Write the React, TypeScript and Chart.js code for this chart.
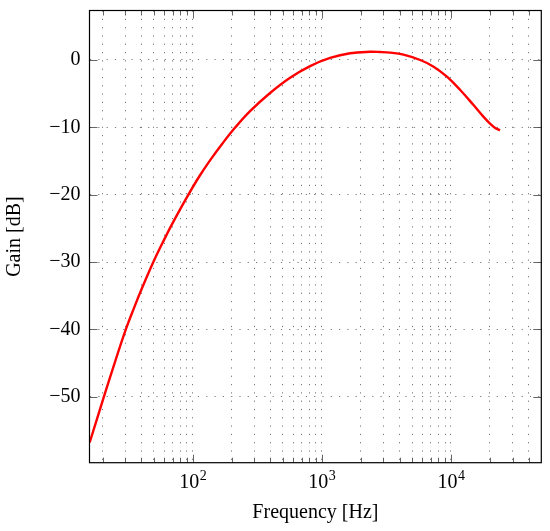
import React, { useEffect, useRef } from 'react';
import { Chart, registerables } from 'chart.js';

Chart.register(...registerables);

// frequency response
const freqHz = [
  15.9, 20.5, 25.1, 30.3, 35.1, 39.8, 49.5, 60.3, 70.8, 92.5, 112.2, 136.1, 169.8, 213.8,
  278, 397, 567.5, 811, 1159, 1656, 2366, 2818, 3381, 4285, 5781, 7345, 9311, 11803,
  14962, 17906, 20184, 21878, 24000,
];
const gainDb = [
  -56.8, -50, -44.7, -40, -36.8, -34.2, -30, -26.6, -24.0, -20, -17.3, -14.9, -12.4, -10,
  -7.6, -4.9, -2.63, -0.9, 0.3, 1.0, 1.22, 1.18, 1.09, 0.79, 0.0, -0.99, -2.48, -4.46,
  -6.69, -8.45, -9.5, -10.05, -10.45,
];

const xMajorTicks = [100, 1000, 10000];
const xTickExponents = ['2', '3', '4'];
const xMinorTicks = [
  20, 30, 40, 50, 60, 70, 80, 90,
  200, 300, 400, 500, 600, 700, 800, 900,
  2000, 3000, 4000, 5000, 6000, 7000, 8000, 9000,
  20000, 30000, 40000,
];
const yTicks = [-50, -40, -30, -20, -10, 0];

const FONT = "'Liberation Serif', 'Times New Roman', serif";

const pgfFrame = {
  id: 'pgfFrame',
  afterDraw(chart: any) {
    const { ctx, chartArea: a, scales } = chart;
    const x = scales.x;
    const y = scales.y;
    ctx.save();
    ctx.strokeStyle = '#404040';
    ctx.lineWidth = 0.8;

    const tickX = (v: number, len: number) => {
      const px = Math.round(x.getPixelForValue(v)) + 0.5;
      ctx.beginPath();
      ctx.moveTo(px, a.bottom);
      ctx.lineTo(px, a.bottom - len);
      ctx.moveTo(px, a.top);
      ctx.lineTo(px, a.top + len);
      ctx.stroke();
    };
    xMinorTicks.forEach((v) => tickX(v, 5));
    xMajorTicks.forEach((v) => tickX(v, 8));

    yTicks.forEach((v) => {
      const py = Math.round(y.getPixelForValue(v)) + 0.5;
      ctx.beginPath();
      ctx.moveTo(a.left, py);
      ctx.lineTo(a.left + 8, py);
      ctx.moveTo(a.right, py);
      ctx.lineTo(a.right - 8, py);
      ctx.stroke();
    });

    // axis box
    ctx.strokeStyle = '#000';
    ctx.lineWidth = 1.2;
    ctx.strokeRect(a.left, a.top, a.right - a.left, a.bottom - a.top);

    // 10^n labels
    ctx.fillStyle = '#000';
    ctx.textBaseline = 'alphabetic';
    ctx.textAlign = 'left';
    xMajorTicks.forEach((v, i) => {
      const px = x.getPixelForValue(v);
      ctx.font = `20px ${FONT}`;
      const wBase = ctx.measureText('10').width;
      ctx.font = `14px ${FONT}`;
      const wExp = ctx.measureText(xTickExponents[i]).width;
      const left = px - (wBase + wExp) / 2;
      const base = a.bottom + 25.5;
      ctx.font = `20px ${FONT}`;
      ctx.fillText('10', left, base);
      ctx.font = `14px ${FONT}`;
      ctx.fillText(xTickExponents[i], left + wBase + 0.5, base - 8);
    });
    ctx.restore();
  },
};

const App: React.FC = () => {
  const canvasRef = useRef<HTMLCanvasElement | null>(null);

  useEffect(() => {
    document.body.style.margin = '0';
    if (!canvasRef.current) return;
    const ctx = canvasRef.current.getContext('2d');
    if (!ctx) return;

    const chart = new Chart(ctx, {
      type: 'line',
      data: {
        datasets: [
          {
            data: freqHz.map((f, i) => ({ x: f, y: gainDb[i] })),
            borderColor: '#ff0000',
            borderWidth: 2.4,
            pointRadius: 0,
            fill: false,
            tension: 0.4,
          },
        ],
      },
      options: {
        animation: false,
        responsive: true,
        maintainAspectRatio: false,
        layout: { padding: { top: 10.5, right: 8.7, left: 0, bottom: 0 } },
        plugins: {
          legend: { display: false },
          tooltip: { enabled: false },
        },
        scales: {
          x: {
            type: 'logarithmic',
            min: 15.85,
            max: 50119,
            afterBuildTicks: (s: any) => {
              s.ticks = [...xMinorTicks, ...xMajorTicks]
                .sort((p, q) => p - q)
                .map((v) => ({ value: v }));
            },
            afterFit: (s: any) => {
              s.height = 68.3;
              s.paddingLeft = 0;
              s.paddingRight = 0;
            },
            ticks: { display: false, autoSkip: false },
            grid: { color: '#7a7a7a', lineWidth: 1, drawTicks: false },
            border: { display: false, dash: [1.2, 7.1] },
            title: {
              display: true,
              text: 'Frequency [Hz]',
              color: '#000',
              font: { family: FONT, size: 20 },
              padding: { top: 0, bottom: 6 },
            },
          },
          y: {
            type: 'linear',
            min: -59.8,
            max: 7.35,
            afterBuildTicks: (s: any) => {
              s.ticks = yTicks.map((v) => ({ value: v }));
            },
            afterFit: (s: any) => {
              s.width = 89.5;
              s.paddingTop = 0;
              s.paddingBottom = 0;
            },
            ticks: {
              autoSkip: false,
              padding: 9,
              color: '#000',
              font: { family: FONT, size: 20 },
              callback: (v: any) => (Number(v) < 0 ? '\u2212' + Math.abs(Number(v)) : String(v)),
            },
            grid: { color: '#7a7a7a', lineWidth: 1, drawTicks: false },
            border: { display: false, dash: [1.2, 7.1] },
            title: {
              display: true,
              text: 'Gain [dB]',
              color: '#000',
              font: { family: FONT, size: 20 },
              padding: { top: 3, bottom: 0 },
            },
          },
        },
      },
      plugins: [pgfFrame],
    });

    return () => {
      chart.destroy();
    };
  }, []);

  return (
    <div style={{ width: 550, height: 531, position: 'relative' }}>
      <canvas ref={canvasRef} />
    </div>
  );
};

export default App;
